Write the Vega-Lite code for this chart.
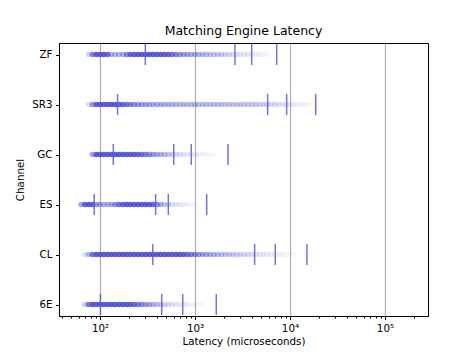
{
  "$schema": "https://vega.github.io/schema/vega-lite/v6.json",
  "width": 369,
  "height": 273,
  "autosize": {"type": "none"},
  "padding": {"left": 59, "top": 43, "right": 46, "bottom": 41},
  "background": "white",
  "title": {"text": "Matching Engine Latency", "font": "DejaVu Sans", "fontSize": 12.5, "fontWeight": "normal", "color": "black", "offset": 6},
  "config": {
    "view": {"stroke": "black", "strokeWidth": 1},
    "axis": {"labelFont": "DejaVu Sans", "titleFont": "DejaVu Sans", "labelFontSize": 10.3, "titleFontSize": 10.3, "titleFontWeight": "normal", "labelColor": "black", "titleColor": "black", "domainColor": "black", "tickColor": "black"}
  },
  "datasets": {
    "pts": [
      {"c": "ZF", "v": [75.9,83.2,91.2,100,109.6,120.2,131.8,144.5,158.5,173.8,190.5,208.9,229.1,251.2,275.4,302,331.1,363.1,398.1,436.5,478.6,524.8,575.4,631,691.8,758.6,831.8,912,1000,1096,1202,1318,1445,1585,1738,1905,2089,2291,2512,2754,3020,3311,3631,3981,4365,4786,5248,5754],
       "n": [15,60,90,90,90,80,35,30,30,35,60,85,90,90,90,90,90,90,90,90,90,85,75,60,50,45,40,35,32,30,28,26,24,22,20,18,15,12,10,9,7,6,5,4,3,3,2,1]},
      {"c": "SR3", "v": [75.9,83.2,91.2,100,109.6,120.2,131.8,144.5,158.5,173.8,190.5,208.9,229.1,251.2,275.4,302,331.1,363.1,398.1,436.5,478.6,524.8,575.4,631,691.8,758.6,831.8,912,1000,1096,1202,1318,1445,1585,1738,1905,2089,2291,2512,2754,3020,3311,3631,3981,4365,4786,5248,5754,6310,6918,7586,8318,9120,10000,10965,12023,13183,14454,15849],
       "n": [10,50,90,90,90,90,90,90,85,80,70,60,52,46,42,40,38,36,34,32,31,30,29,28,27,27,26,26,25,25,24,24,23,23,22,22,21,21,20,20,19,19,18,18,17,16,15,14,12,10,9,8,6,5,4,3,2,2,1]},
      {"c": "GC", "v": [83.2,91.2,100,109.6,120.2,131.8,144.5,158.5,173.8,190.5,208.9,229.1,251.2,275.4,302,331.1,363.1,398.1,436.5,478.6,524.8,575.4,631,691.8,758.6,831.8,912,1000,1096,1202,1318,1445,1585],
       "n": [40,90,90,90,90,90,90,90,90,90,90,90,85,75,65,55,45,38,30,25,20,16,12,9,7,5,4,3,3,2,2,1,1]},
      {"c": "ES", "v": [63.1,69.2,75.9,83.2,91.2,100,109.6,120.2,131.8,144.5,158.5,173.8,190.5,208.9,229.1,251.2,275.4,302,331.1,363.1,398.1,436.5,478.6,524.8,575.4,631,691.8,758.6,831.8,912,1000],
       "n": [40,85,90,85,50,40,35,35,40,55,75,85,90,90,90,90,90,90,90,80,55,35,20,12,8,6,4,3,2,2,1]},
      {"c": "CL", "v": [69.2,75.9,83.2,91.2,100,109.6,120.2,131.8,144.5,158.5,173.8,190.5,208.9,229.1,251.2,275.4,302,331.1,363.1,398.1,436.5,478.6,524.8,575.4,631,691.8,758.6,831.8,912,1000,1096,1202,1318,1445,1585,1738,1905,2089,2291,2512,2754,3020,3311,3631,3981,4365,4786,5248,5754,6310,6918,7586,8318,9120,10000,10965],
       "n": [10,30,70,90,90,90,90,90,90,90,90,90,90,90,90,90,90,90,90,90,90,90,90,90,90,90,85,75,65,55,48,42,38,34,30,27,24,22,20,18,16,14,12,11,10,8,7,6,5,4,3,3,2,2,1,1]},
      {"c": "6E", "v": [69.2,75.9,83.2,91.2,100,109.6,120.2,131.8,144.5,158.5,173.8,190.5,208.9,229.1,251.2,275.4,302,331.1,363.1,398.1,436.5,478.6,524.8,575.4,631,691.8,758.6,831.8,912,1000,1096,1202],
       "n": [20,70,90,90,90,90,90,90,90,90,90,90,90,80,65,55,45,38,30,24,18,14,11,8,6,5,4,3,2,2,1,1]}
    ],
    "ticks": [
      {"c": "ZF", "v": 300}, {"c": "ZF", "v": 2636}, {"c": "ZF", "v": 3953}, {"c": "ZF", "v": 7244},
      {"c": "SR3", "v": 153}, {"c": "SR3", "v": 5820}, {"c": "SR3", "v": 9228}, {"c": "SR3", "v": 18660},
      {"c": "GC", "v": 138}, {"c": "GC", "v": 597}, {"c": "GC", "v": 914}, {"c": "GC", "v": 2223},
      {"c": "ES", "v": 87}, {"c": "ES", "v": 385}, {"c": "ES", "v": 524}, {"c": "ES", "v": 1327},
      {"c": "CL", "v": 359}, {"c": "CL", "v": 4245}, {"c": "CL", "v": 7000}, {"c": "CL", "v": 15100},
      {"c": "6E", "v": 101}, {"c": "6E", "v": 446}, {"c": "6E", "v": 743}, {"c": "6E", "v": 1675}
    ]
  },
  "layer": [
    {
      "data": {"name": "pts"},
      "transform": [{"flatten": ["v", "n"]}],
      "mark": {"type": "circle", "size": 30, "color": "#4646d0"},
      "encoding": {
        "x": {
          "field": "v", "type": "quantitative",
          "scale": {"type": "log", "domain": [37, 284000], "nice": false},
          "axis": {
            "title": "Latency (microseconds)",
            "values": [40,50,60,70,80,90,100,200,300,400,500,600,700,800,900,1000,2000,3000,4000,5000,6000,7000,8000,9000,10000,20000,30000,40000,50000,60000,70000,80000,90000,100000,200000],
            "labelExpr": "datum.value==100?'10²':datum.value==1000?'10³':datum.value==10000?'10⁴':datum.value==100000?'10⁵':''",
            "labelOverlap": false,
            "labelFlush": false,
            "labelPadding": 3.5,
            "titlePadding": 3,
            "tickSize": {"condition": {"test": "datum.value==100||datum.value==1000||datum.value==10000||datum.value==100000", "value": 3.5}, "value": 2},
            "grid": true,
            "gridColor": "#b0b0b0",
            "gridWidth": 1.2,
            "gridOpacity": {"condition": {"test": "datum.value==100||datum.value==1000||datum.value==10000||datum.value==100000", "value": 1}, "value": 0}
          }
        },
        "y": {
          "field": "c", "type": "nominal",
          "sort": ["ZF", "SR3", "GC", "ES", "CL", "6E"],
          "scale": {"type": "point", "padding": 0.23},
          "axis": {"title": "Channel", "grid": false, "tickSize": 3.5, "labelPadding": 3.5, "titlePadding": 6}
        },
        "opacity": {"field": "n", "type": "quantitative", "scale": {"type": "pow", "exponent": 0.7, "domain": [0, 100], "range": [0, 0.92]}, "legend": null}
      }
    },
    {
      "data": {"name": "ticks"},
      "mark": {"type": "tick", "color": "#5a5ad5", "thickness": 1.5, "size": 21, "opacity": 0.85},
      "encoding": {
        "x": {"field": "v", "type": "quantitative"},
        "y": {"field": "c", "type": "nominal", "sort": ["ZF", "SR3", "GC", "ES", "CL", "6E"]}
      }
    }
  ]
}
